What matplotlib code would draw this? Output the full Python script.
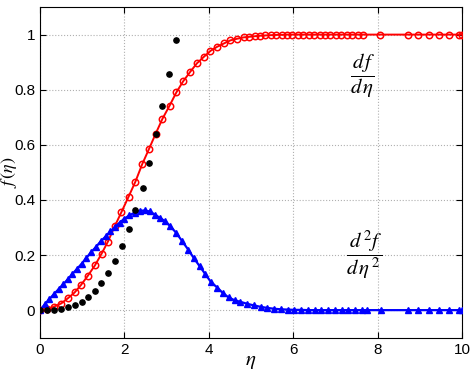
import numpy as np
import matplotlib
matplotlib.use("Agg")
import matplotlib.pyplot as plt

# eta values (solver output, uneven steps)
eta_f = [0.0, 0.16, 0.32, 0.50, 0.66, 0.83, 0.99, 1.14, 1.30, 1.45, 1.62, 1.78,
         1.94, 2.10, 2.26, 2.43, 2.59, 2.74, 2.90, 3.06, 3.23]
f = [0.0, 0.0, 0.001, 0.004, 0.010, 0.018, 0.030, 0.048, 0.070, 0.100, 0.136, 0.180,
     0.234, 0.294, 0.365, 0.445, 0.534, 0.640, 0.740, 0.857, 0.980]

eta_df = [0.0, 0.16, 0.32, 0.50, 0.66, 0.82, 0.97, 1.13, 1.30, 1.46, 1.61, 1.77,
          1.93, 2.10, 2.26, 2.42, 2.58, 2.74, 2.90, 3.07, 3.23, 3.39, 3.56, 3.72,
          3.88, 4.04, 4.20, 4.36, 4.51, 4.67, 4.83, 4.96, 5.09, 5.21, 5.34, 5.47,
          5.60, 5.73, 5.86, 5.98, 6.11, 6.24, 6.37, 6.50, 6.63, 6.75, 6.88, 7.01,
          7.14, 7.27, 7.40, 7.53, 7.65, 8.05, 8.71, 8.95, 9.22, 9.45, 9.69, 9.93, 10.0]
df = [0.0, 0.004, 0.012, 0.024, 0.043, 0.064, 0.091, 0.124, 0.162, 0.205, 0.249, 0.304,
      0.356, 0.412, 0.466, 0.529, 0.584, 0.640, 0.694, 0.742, 0.790, 0.830, 0.865, 0.896,
      0.919, 0.941, 0.956, 0.968, 0.979, 0.985, 0.990, 0.992, 0.994, 0.996, 0.997, 0.998,
      0.999, 0.999, 1.0, 1.0, 1.0, 1.0, 1.0, 1.0, 1.0, 1.0, 1.0, 1.0,
      1.0, 1.0, 1.0, 1.0, 1.0, 1.0, 1.0, 1.0, 1.0, 1.0, 1.0, 1.0, 1.0]

eta_ddf = [0.0, 0.12, 0.22, 0.33, 0.44, 0.55, 0.66, 0.77, 0.88, 0.99, 1.10, 1.21,
           1.33, 1.44, 1.56, 1.67, 1.78, 1.89, 2.00, 2.12, 2.24, 2.36, 2.48, 2.60,
           2.73, 2.85, 2.97, 3.09, 3.23, 3.37, 3.51, 3.64, 3.78, 3.92, 4.05, 4.20,
           4.34, 4.47, 4.61, 4.75, 4.91, 5.07, 5.23, 5.39, 5.55, 5.71, 5.87, 6.03,
           6.19, 6.35, 6.51, 6.67, 6.83, 6.99, 7.15, 7.31, 7.47, 7.63, 7.76,
           8.07, 8.71, 8.95, 9.22, 9.45, 9.69, 9.93, 10.0]
ddf = [0.0, 0.022, 0.040, 0.058, 0.076, 0.094, 0.112, 0.132, 0.150, 0.169, 0.190, 0.210,
       0.230, 0.250, 0.268, 0.286, 0.302, 0.318, 0.332, 0.344, 0.354, 0.360, 0.362, 0.358,
       0.346, 0.334, 0.322, 0.304, 0.280, 0.250, 0.220, 0.190, 0.160, 0.130, 0.102, 0.082,
       0.061, 0.046, 0.036, 0.030, 0.023, 0.017, 0.012, 0.008, 0.005, 0.003, 0.002, 0.001,
       0.001, 0.0, 0.0, 0.0, 0.0, 0.0, 0.0, 0.0, 0.0, 0.0, 0.0,
       0.0, 0.0, 0.0, 0.0, 0.0, 0.0, 0.0, 0.0]

plt.rcParams['font.family'] = ['Liberation Sans', 'DejaVu Sans']
plt.rcParams['mathtext.fontset'] = 'stix'

fig = plt.figure(figsize=(4.74, 3.71), dpi=100)
ax = fig.add_axes([0.0844, 0.0898, 0.8903, 0.8912])

ax.plot(eta_df, df, '-o', color='red', lw=1.4, ms=4.6, mfc='none', mew=1.1, zorder=3)
ax.plot(eta_ddf, ddf, '-^', color='blue', lw=1.6, ms=5, mfc='blue', zorder=3)
ax.plot(eta_f, f, 'o', color='black', ms=3.8, zorder=4)

ax.set_xlim(0, 10)
ax.set_ylim(-0.1, 1.1)
ax.set_xticks([0, 2, 4, 6, 8, 10])
ax.set_yticks([0, 0.2, 0.4, 0.6, 0.8, 1])
ax.set_yticklabels(['0', '0.2', '0.4', '0.6', '0.8', '1'])
ax.grid(True, ls=':', color='#b0b0b0', lw=0.8)
ax.tick_params(direction='in', top=True, right=True, labelsize=11, length=4)
for s in ax.spines.values():
    s.set_linewidth(0.8)

ax.set_xlabel(r'$\eta$', fontsize=15, labelpad=-3)
ax.set_ylabel(r'$f\,(\eta)$', fontsize=13)
ax.yaxis.set_label_coords(-0.05, 0.5)

ax.text(7.65, 0.85, r'$\dfrac{d\,f}{d\,\eta}$', fontsize=15, ha='center', va='center')
ax.text(7.68, 0.2, r'$\dfrac{d^{\,2} f}{d\,\eta^{\,2}}$', fontsize=15, ha='center', va='center')

fig.savefig('out.png', dpi=100)
